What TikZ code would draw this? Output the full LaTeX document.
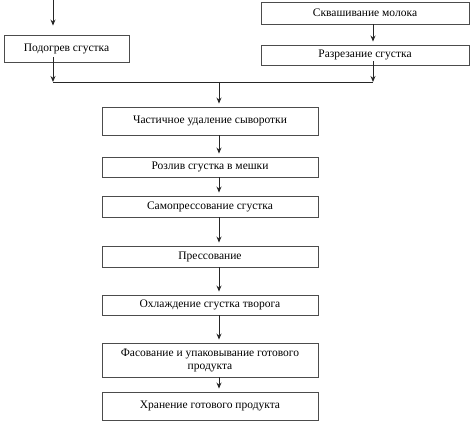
\documentclass[tikz,border=0pt]{standalone}
\usepackage{fontspec}
\setmainfont{Liberation Serif}
\usetikzlibrary{arrows, arrows.meta, positioning}

\begin{document}
\begin{tikzpicture}[x=1pt, y=-1pt,
    stage/.style={draw=black!70, line width=0.9pt, align=center,
      font=\fontsize{11.5}{13}\selectfont, inner sep=1pt},
    flow/.style={draw=black!85, line width=0.9pt, -{Stealth[length=6pt, width=5pt]}, shorten >=3pt}]
  \useasboundingbox (0,0) rectangle (474,422);

  % Left branch
  \coordinate (lin) at (53,0);
  \node [stage, minimum width=125pt, minimum height=27pt] (heat) at (66.5,48.5) {Подогрев сгустка};

  % Right branch
  \node [stage, minimum width=208pt, minimum height=22pt] (sour) at (365,13) {Сквашивание молока};
  \node [stage, minimum width=208pt, minimum height=20pt] (cut) at (365,55) {Разрезание сгустка};

  % Main column
  \node [stage, minimum width=216pt, minimum height=28pt] (whey) at (210,121) {Частичное удаление сыворотки};
  \node [stage, minimum width=216pt, minimum height=20pt] (bags) at (210,167) {Розлив сгустка в мешки};
  \node [stage, minimum width=216pt, minimum height=21pt] (self) at (210,206.5) {Самопрессование сгустка};
  \node [stage, minimum width=216pt, minimum height=21pt] (press) at (210,256.5) {Прессование};
  \node [stage, minimum width=216pt, minimum height=20pt] (cool) at (210,305) {Охлаждение сгустка творога};
  \node [stage, minimum width=216pt, minimum height=34pt] (pack) at (210,360) {Фасование и упаковывание готового\\продукта};
  \node [stage, minimum width=216pt, minimum height=28pt] (store) at (210,406) {Хранение готового продукта};

  % Joining line
  \coordinate (jl) at (53,82);
  \coordinate (jr) at (373,82);
  \coordinate (jm) at (219,82);
  \draw [draw=black!85, line width=0.9pt] (jl) -- (jr);

  \draw [flow, shorten >=9pt] (lin) -- (lin |- heat.north);
  \draw [flow, shorten >=0pt] ([yshift=5pt]jl |- heat.south) -- (jl);
  \draw [flow] (jr |- sour.south) -- (jr |- cut.north);
  \draw [flow, shorten >=0pt] ([yshift=4pt]jr |- cut.south) -- (jr);
  \draw [flow] (jm) -- (jm |- whey.north);

  \foreach \a/\b in {whey/bags, bags/self, self/press, press/cool, cool/pack, pack/store}
    \draw [flow] ([xshift=9pt]\a.south) -- ([xshift=9pt]\b.north);
\end{tikzpicture}
\end{document}
